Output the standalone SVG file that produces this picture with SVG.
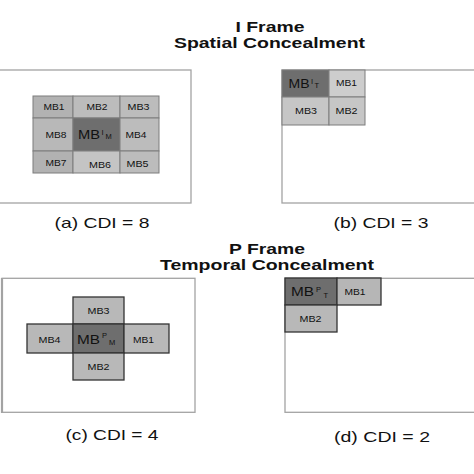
<svg xmlns="http://www.w3.org/2000/svg" width="474" height="474" viewBox="0 0 474 474">
<style>
.frame{fill:#fff;stroke:#a3a3a3;stroke-width:1.3}
.c1{stroke:#7d7d7d;stroke-width:1}
.c2{stroke:#333;stroke-width:1.3}
.lt{fill:#bcbcbc}
.dk{fill:#6e6e6e}
.t{font-family:"Liberation Sans",Arial,sans-serif;fill:#111}
.title{font-size:14.5px;font-weight:bold;text-anchor:middle}
.cap{font-size:14.5px;text-anchor:middle}
.s{font-size:8.5px;text-anchor:middle}
.b{font-size:12px}
.sup{font-size:7.5px}
</style>
<rect width="474" height="474" fill="#fff"/>
<g id="titles">
<text class="t title" x="270" y="32" textLength="69" lengthAdjust="spacingAndGlyphs">I Frame</text>
<text class="t title" x="269.5" y="47.5" textLength="191" lengthAdjust="spacingAndGlyphs">Spatial Concealment</text>
<text class="t title" x="267" y="254" textLength="76" lengthAdjust="spacingAndGlyphs">P Frame</text>
<text class="t title" x="267" y="270" textLength="214" lengthAdjust="spacingAndGlyphs">Temporal Concealment</text>
</g>
<g id="frame-a">
<rect class="frame" x="-2" y="70" width="193" height="133"/>
<g id="a-MB1"><rect class="c1" x="33" y="96" width="40" height="22" fill="#b2b2b2"/><text class="t s" x="54" y="110" textLength="21" lengthAdjust="spacingAndGlyphs">MB1</text></g>
<g id="a-MB2"><rect class="c1 lt" x="73" y="96" width="47" height="22"/><text class="t s" x="97" y="110" textLength="21" lengthAdjust="spacingAndGlyphs">MB2</text></g>
<g id="a-MB3"><rect class="c1 lt" x="120" y="96" width="39" height="22"/><text class="t s" x="138.5" y="110" textLength="22" lengthAdjust="spacingAndGlyphs">MB3</text></g>
<g id="a-MB8"><rect class="c1" x="33" y="118" width="40" height="33" fill="#b8b8b8"/><text class="t s" x="56" y="138" textLength="21" lengthAdjust="spacingAndGlyphs">MB8</text></g>
<g id="a-MBM"><rect class="c1 dk" x="73" y="118" width="47" height="33"/><text class="t b" x="78" y="138.5" textLength="22" lengthAdjust="spacingAndGlyphs">MB</text><text class="t sup" x="101.5" y="134.5">I</text><text class="t sup" x="105.5" y="139">M</text></g>
<g id="a-MB4"><rect class="c1 lt" x="120" y="118" width="39" height="33"/><text class="t s" x="136" y="138" textLength="21" lengthAdjust="spacingAndGlyphs">MB4</text></g>
<g id="a-MB7"><rect class="c1" x="33" y="151" width="40" height="22" fill="#b2b2b2"/><text class="t s" x="56" y="166" textLength="21" lengthAdjust="spacingAndGlyphs">MB7</text></g>
<g id="a-MB6"><rect class="c1" x="73" y="151" width="47" height="22" fill="#c4c4c4"/><text class="t s" x="100" y="168" textLength="22" lengthAdjust="spacingAndGlyphs">MB6</text></g>
<g id="a-MB5"><rect class="c1 lt" x="120" y="151" width="39" height="22"/><text class="t s" x="137.5" y="167" textLength="22" lengthAdjust="spacingAndGlyphs">MB5</text></g>
</g>
<g id="frame-b">
<rect class="frame" x="282" y="70" width="200" height="133"/>
<g id="b-MBT"><rect class="c1 dk" x="282" y="70" width="47" height="27"/><text class="t b" x="288.5" y="87.5" textLength="21" lengthAdjust="spacingAndGlyphs">MB</text><text class="t sup" x="311" y="83.5">I</text><text class="t sup" x="314.5" y="88">T</text></g>
<g id="b-MB1"><rect class="c1" x="329" y="70" width="36" height="27" fill="#cdcdcd"/><text class="t s" x="346.5" y="86" textLength="21" lengthAdjust="spacingAndGlyphs">MB1</text></g>
<g id="b-MB3"><rect class="c1" x="282" y="97" width="47" height="28" fill="#c6c6c6"/><text class="t s" x="306" y="114" textLength="22" lengthAdjust="spacingAndGlyphs">MB3</text></g>
<g id="b-MB2"><rect class="c1" x="329" y="97" width="36" height="28" fill="#c6c6c6"/><text class="t s" x="346.5" y="114" textLength="22" lengthAdjust="spacingAndGlyphs">MB2</text></g>
</g>
<g id="frame-c">
<rect class="frame" x="2" y="278.3" width="193" height="134"/>
<line x1="2" y1="278" x2="2" y2="413" stroke="#a3a3a3" stroke-width="2.2"/>
<g id="c-MB3"><rect class="c2" x="73" y="297" width="51" height="27" fill="#b8b8b8"/><text class="t s" x="98.5" y="314" textLength="22" lengthAdjust="spacingAndGlyphs">MB3</text></g>
<g id="c-MB4"><rect class="c2" x="27" y="324" width="46" height="29" fill="#b8b8b8"/><text class="t s" x="49.5" y="342.5" textLength="22" lengthAdjust="spacingAndGlyphs">MB4</text></g>
<g id="c-MBM"><rect class="c2 dk" x="73" y="324" width="51" height="29"/><text class="t b" x="77" y="343.5" textLength="23" lengthAdjust="spacingAndGlyphs">MB</text><text class="t sup" x="102" y="338">P</text><text class="t sup" x="109" y="344.5">M</text></g>
<g id="c-MB1"><rect class="c2" x="124" y="324" width="45" height="29" fill="#b8b8b8"/><text class="t s" x="143.5" y="342.5" textLength="21" lengthAdjust="spacingAndGlyphs">MB1</text></g>
<g id="c-MB2"><rect class="c2" x="73" y="353" width="51" height="27" fill="#b8b8b8"/><text class="t s" x="98.5" y="370" textLength="22" lengthAdjust="spacingAndGlyphs">MB2</text></g>
</g>
<g id="frame-d">
<rect class="frame" x="285" y="278.3" width="200" height="134"/>
<g id="d-MBT"><rect class="c2 dk" x="285" y="278" width="52" height="27"/><text class="t b" x="291" y="296" textLength="23" lengthAdjust="spacingAndGlyphs">MB</text><text class="t sup" x="316" y="291.5">P</text><text class="t sup" x="323.5" y="297.5">T</text></g>
<g id="d-MB1"><rect class="c2" x="337" y="278" width="44" height="27" fill="#b6b6b6"/><text class="t s" x="355" y="295" textLength="21" lengthAdjust="spacingAndGlyphs">MB1</text></g>
<g id="d-MB2"><rect class="c2" x="285" y="305" width="52" height="27" fill="#b8b8b8"/><text class="t s" x="310.5" y="322" textLength="22" lengthAdjust="spacingAndGlyphs">MB2</text></g>
</g>
<g id="captions">
<text class="t cap" x="102" y="228" textLength="95" lengthAdjust="spacingAndGlyphs">(a) CDI = 8</text>
<text class="t cap" x="381" y="228" textLength="95" lengthAdjust="spacingAndGlyphs">(b) CDI = 3</text>
<text class="t cap" x="112" y="439.5" textLength="93" lengthAdjust="spacingAndGlyphs">(c) CDI = 4</text>
<text class="t cap" x="382" y="441.5" textLength="96" lengthAdjust="spacingAndGlyphs">(d) CDI = 2</text>
</g>
<g id="connectors"/>
</svg>
